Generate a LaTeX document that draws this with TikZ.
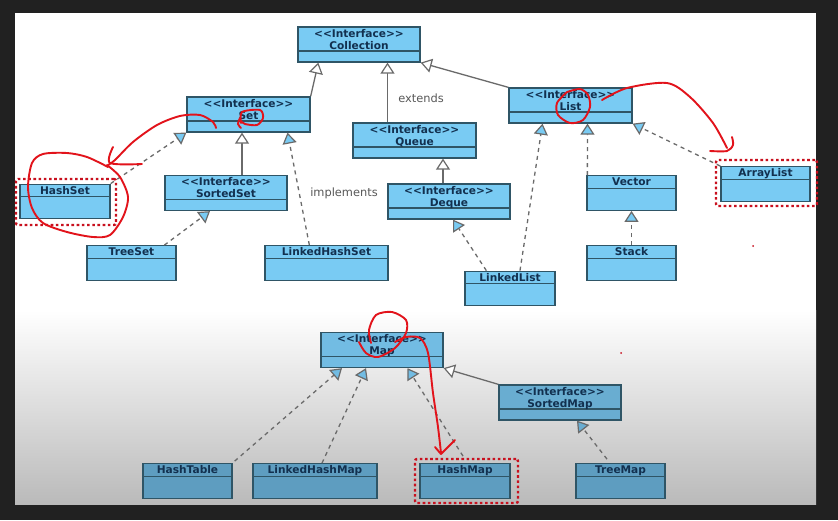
\documentclass[tikz,border=0pt]{standalone}
\usepackage{fontspec}
\setmainfont{DejaVu Sans}
\usetikzlibrary{arrows.meta}
\definecolor{frame}{HTML}{212121}
\definecolor{boxblue}{HTML}{79CBF3}
\definecolor{midblue}{HTML}{72BCE3}
\definecolor{lowblue}{HTML}{5E9DC0}
\definecolor{boxedge}{HTML}{2F5566}
\definecolor{boxtext}{HTML}{12304F}
\definecolor{linkgray}{HTML}{6A6A6A}
\definecolor{pen}{HTML}{E2131B}
\definecolor{marker}{HTML}{C8101E}
\newcommand{\stereo}{<{}<Interface>{}>}
\tikzset{%
    base/.style={%
        draw=boxedge, line width=1.3pt, fill=#1, inner sep=0pt, align=center,
        text=boxtext, font=\fontsize{10.6}{12}\selectfont\bfseries
    },
    divider/.style={%
        path picture={\draw[boxedge,line width=1.2pt]
            ([yshift=-#1]path picture bounding box.north west) --
            ([yshift=-#1]path picture bounding box.north east);}
    },
    klass/.style={base=#1, divider=12.5pt, text height=10pt, text depth=24.5pt},
    iface/.style={base=#1, divider=24pt, text height=22pt, text depth=13pt},
    extends/.style={%
        line width=1.3pt, linkgray,
        -{Triangle[open,fill=white,length=11pt,width=14pt,line width=1.2pt]}
    },
    implements/.style={%
        line width=1.3pt, linkgray, dash pattern=on 4pt off 4pt,
        -{Triangle[open,fill=#1,length=11pt,width=14pt,line width=1.2pt]}
    },
    implements/.default=boxblue,
    redpen/.style={pen, line width=1.9pt, line cap=round, line join=round},
    redmark/.style={%
        draw=marker, line width=2.4pt, dash pattern=on 2.6pt off 2.6pt,
        rounded corners=2pt, inner sep=0pt
    },
    note/.style={text=black!65, inner sep=0pt, font=\fontsize{11.4}{12}\selectfont}
}
\begin{document}
\begin{tikzpicture}[x=1pt,y=-1pt]
\fill[frame] (0,0) rectangle (838,520);
\fill[white] (15,13) rectangle (816,310);
\shade[top color=white,bottom color=black!27] (15,310) rectangle (816,504);

\node[iface=boxblue,minimum width=122pt] (collection) at (359,44.5) {\stereo\\Collection};
\node[iface=boxblue,minimum width=123pt] (set) at (248.5,114.5) {\stereo\\Set};
\node[iface=boxblue,minimum width=123pt] (queue) at (414.5,140.5) {\stereo\\Queue};
\node[iface=boxblue,minimum width=123pt] (list) at (570.5,105.5) {\stereo\\List};
\node[iface=boxblue,minimum width=122pt] (sortedset) at (226,193) {\stereo\\SortedSet};
\node[iface=boxblue,minimum width=122pt] (deque) at (449,201.5) {\stereo\\Deque};

\node[klass=boxblue,minimum width=90pt] (hashset) at (65,201.5) {HashSet};
\node[klass=boxblue,minimum width=89pt] (vector) at (631.5,193) {Vector};
\node[klass=boxblue,minimum width=89pt] (arraylist) at (765.5,184) {ArrayList};
\node[klass=boxblue,minimum width=89pt] (treeset) at (131.5,263) {TreeSet};
\node[klass=boxblue,minimum width=123pt] (linkedhashset) at (326.5,263) {LinkedHashSet};
\node[klass=boxblue,minimum width=90pt] (linkedlist) at (510,288.5) {LinkedList};
\node[klass=boxblue,minimum width=89pt] (stack) at (631.5,263) {Stack};

\node[iface=midblue,minimum width=122pt] (map) at (382,350) {\stereo\\Map};
\node[iface=midblue!92!black,minimum width=122pt] (sortedmap) at (560,402.5) {\stereo\\SortedMap};
\node[klass=lowblue,minimum width=89pt] (hashtable) at (187.5,481) {HashTable};
\node[klass=lowblue,minimum width=124pt] (linkedhashmap) at (315,481) {LinkedHashMap};
\node[klass=lowblue,minimum width=90pt] (hashmap) at (465,481) {HashMap};
\node[klass=lowblue,minimum width=89pt] (treemap) at (620.5,481) {TreeMap};

\node[note] (extendstext) at (421,98) {extends};
\node[note] (implementstext) at (344,193) {implements};

\draw[extends] (set.north east) -- ([xshift=21pt]collection.south west);
\draw[extends] ([xshift=-27pt]queue.north) -- ([xshift=28.5pt]collection.south);
\draw[extends] (list.north west) -- (collection.south east);
\draw[extends] ([xshift=-6pt]deque.north) -- ([xshift=28.5pt]queue.south);
\draw[extends] ([xshift=16pt]sortedset.north) -- ([xshift=-6.5pt]set.south);
\draw[extends] (sortedmap.north west) -- (map.south east);

\draw[implements] (hashset.north east) -- (set.south west);
\draw[implements] ([xshift=45pt]linkedhashset.north west) -- ([xshift=39pt]set.south);
\draw[implements] ([xshift=78pt]treeset.north west) -- ([xshift=-16pt]sortedset.south);
\draw[implements] ([xshift=22pt]linkedlist.north west) -- ([xshift=4pt]deque.south);
\draw[implements] ([xshift=10pt]linkedlist.north) -- ([xshift=-28pt]list.south);
\draw[implements] ([xshift=1pt]vector.north west) -- ([xshift=17pt]list.south);
\draw[implements] (arraylist.north west) -- (list.south east);
\draw[implements] (stack.north) -- (vector.south);

\draw[implements=midblue] ([xshift=2pt,yshift=2pt]hashtable.north east) -- ([xshift=-40pt]map.south);
\draw[implements=midblue] ([xshift=7pt]linkedhashmap.north) -- ([xshift=-16pt]map.south);
\draw[implements=midblue] ([xshift=-2pt,yshift=7pt]hashmap.north) -- ([xshift=25.5pt]map.south);
\draw[implements=midblue!92!black] ([xshift=-13.5pt,yshift=4pt]treemap.north) -- ([xshift=17pt]sortedmap.south);

% red pen on top
\node[redmark,minimum width=100pt,minimum height=46pt] (hashsetmark) at (66,202) {};
\node[redmark,minimum width=101pt,minimum height=46pt] (arraylistmark) at (766.5,183) {};
\node[redmark,minimum width=103pt,minimum height=44pt] (hashmapmark) at (466.5,481) {};

\draw[redpen] plot[smooth] coordinates {(241,123) (242,112) (260,110) (263,118) (257,125) (245,124) (241,121)};
\draw[redpen] plot[smooth] coordinates {(240,118) (238,124) (241,128)};
\draw[redpen] plot[smooth] coordinates {(216,128) (213,122) (200,115) (180,116) (157,125) (133,142) (115,160) (108,165)};
\draw[redpen] plot[smooth] coordinates {(113,147) (110,163) (142,164)};
\draw[redpen] plot[smooth] coordinates {(107,165) (120,177) (128,197) (123,217) (110,235) (93,237) (67,232) (43,223) (32,208) (28,187) (32,163) (43,154) (67,153) (87,157) (108,167)};

\draw[redpen] plot[smooth] coordinates {(567,92) (557,103) (558,115) (570,123) (583,120) (590,107) (588,95) (580,89) (567,92)};
\draw[redpen] plot[smooth] coordinates {(602,100) (627,88) (667,83) (690,97) (713,123) (727,148)};
\draw[redpen] plot[smooth] coordinates {(710,151) (727,151) (733,145) (732,137)};

\draw[redpen] plot[smooth] coordinates {(359,342) (366,353) (378,357) (395,348) (406,333) (406,320) (392,312) (376,315) (369,330) (371,343)};
\draw[redpen] plot[smooth] coordinates {(395,342) (406,337) (420,338) (428,353) (433,393) (438,427) (441,453)};
\draw[redpen] plot coordinates {(435,447) (441,454) (455,440)};

\fill[marker] (753,246) circle (1);
\fill[marker] (621,353) circle (1);
\end{tikzpicture}
\end{document}
